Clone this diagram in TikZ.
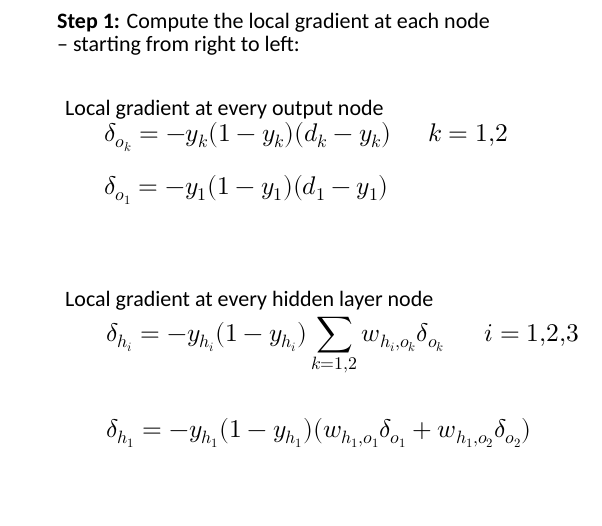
\documentclass[tikz,border=0pt]{standalone}
\usepackage{amsmath}
\usepackage{fontspec}
\usepackage{unicode-math}
\setmainfont{Carlito}
\setmathfont{Latin Modern Math}
\begin{document}
\begin{tikzpicture}[x=1pt,y=-1pt,
  txt/.style={anchor=base west,inner sep=0pt,font=\fontsize{22}{26}\selectfont},
  eq/.style={anchor=base west,inner sep=0pt,font=\fontsize{25.5}{30}\selectfont}]
\useasboundingbox[fill=white] (0,0) rectangle (602,525);
\node[txt] (t1) at (57,28) {\textbf{Step 1:} Compute the local gradient at each node};
\node[txt] (t2) at (57,51) {– starting from right to left:};
\node[txt] (t3) at (65,115) {Local gradient at every output node};
\node[eq] (e1) at (104,141) {$\delta_{o_k}=-y_k(1-y_k)(d_k-y_k)$};
\node[eq] (k1) at (428,141) {$k=1{,}2$};
\node[eq] (e2) at (104,194) {$\delta_{o_1}=-y_1(1-y_1)(d_1-y_1)$};
\node[txt] (t4) at (65,306) {Local gradient at every hidden layer node};
\node[eq] (e3) at (106,341) {$\delta_{h_i}=-y_{h_i}(1-y_{h_i})\displaystyle\sum_{k=1,2} w_{h_i,o_k}\delta_{o_k}$};
\node[eq] (i1) at (484,341) {$i=1{,}2{,}3$};
\node[eq] (e4) at (106,437) {$\delta_{h_1}=-y_{h_1}(1-y_{h_1})(w_{h_1,o_1}\delta_{o_1}+w_{h_1,o_2}\delta_{o_2})$};
\end{tikzpicture}
\end{document}
